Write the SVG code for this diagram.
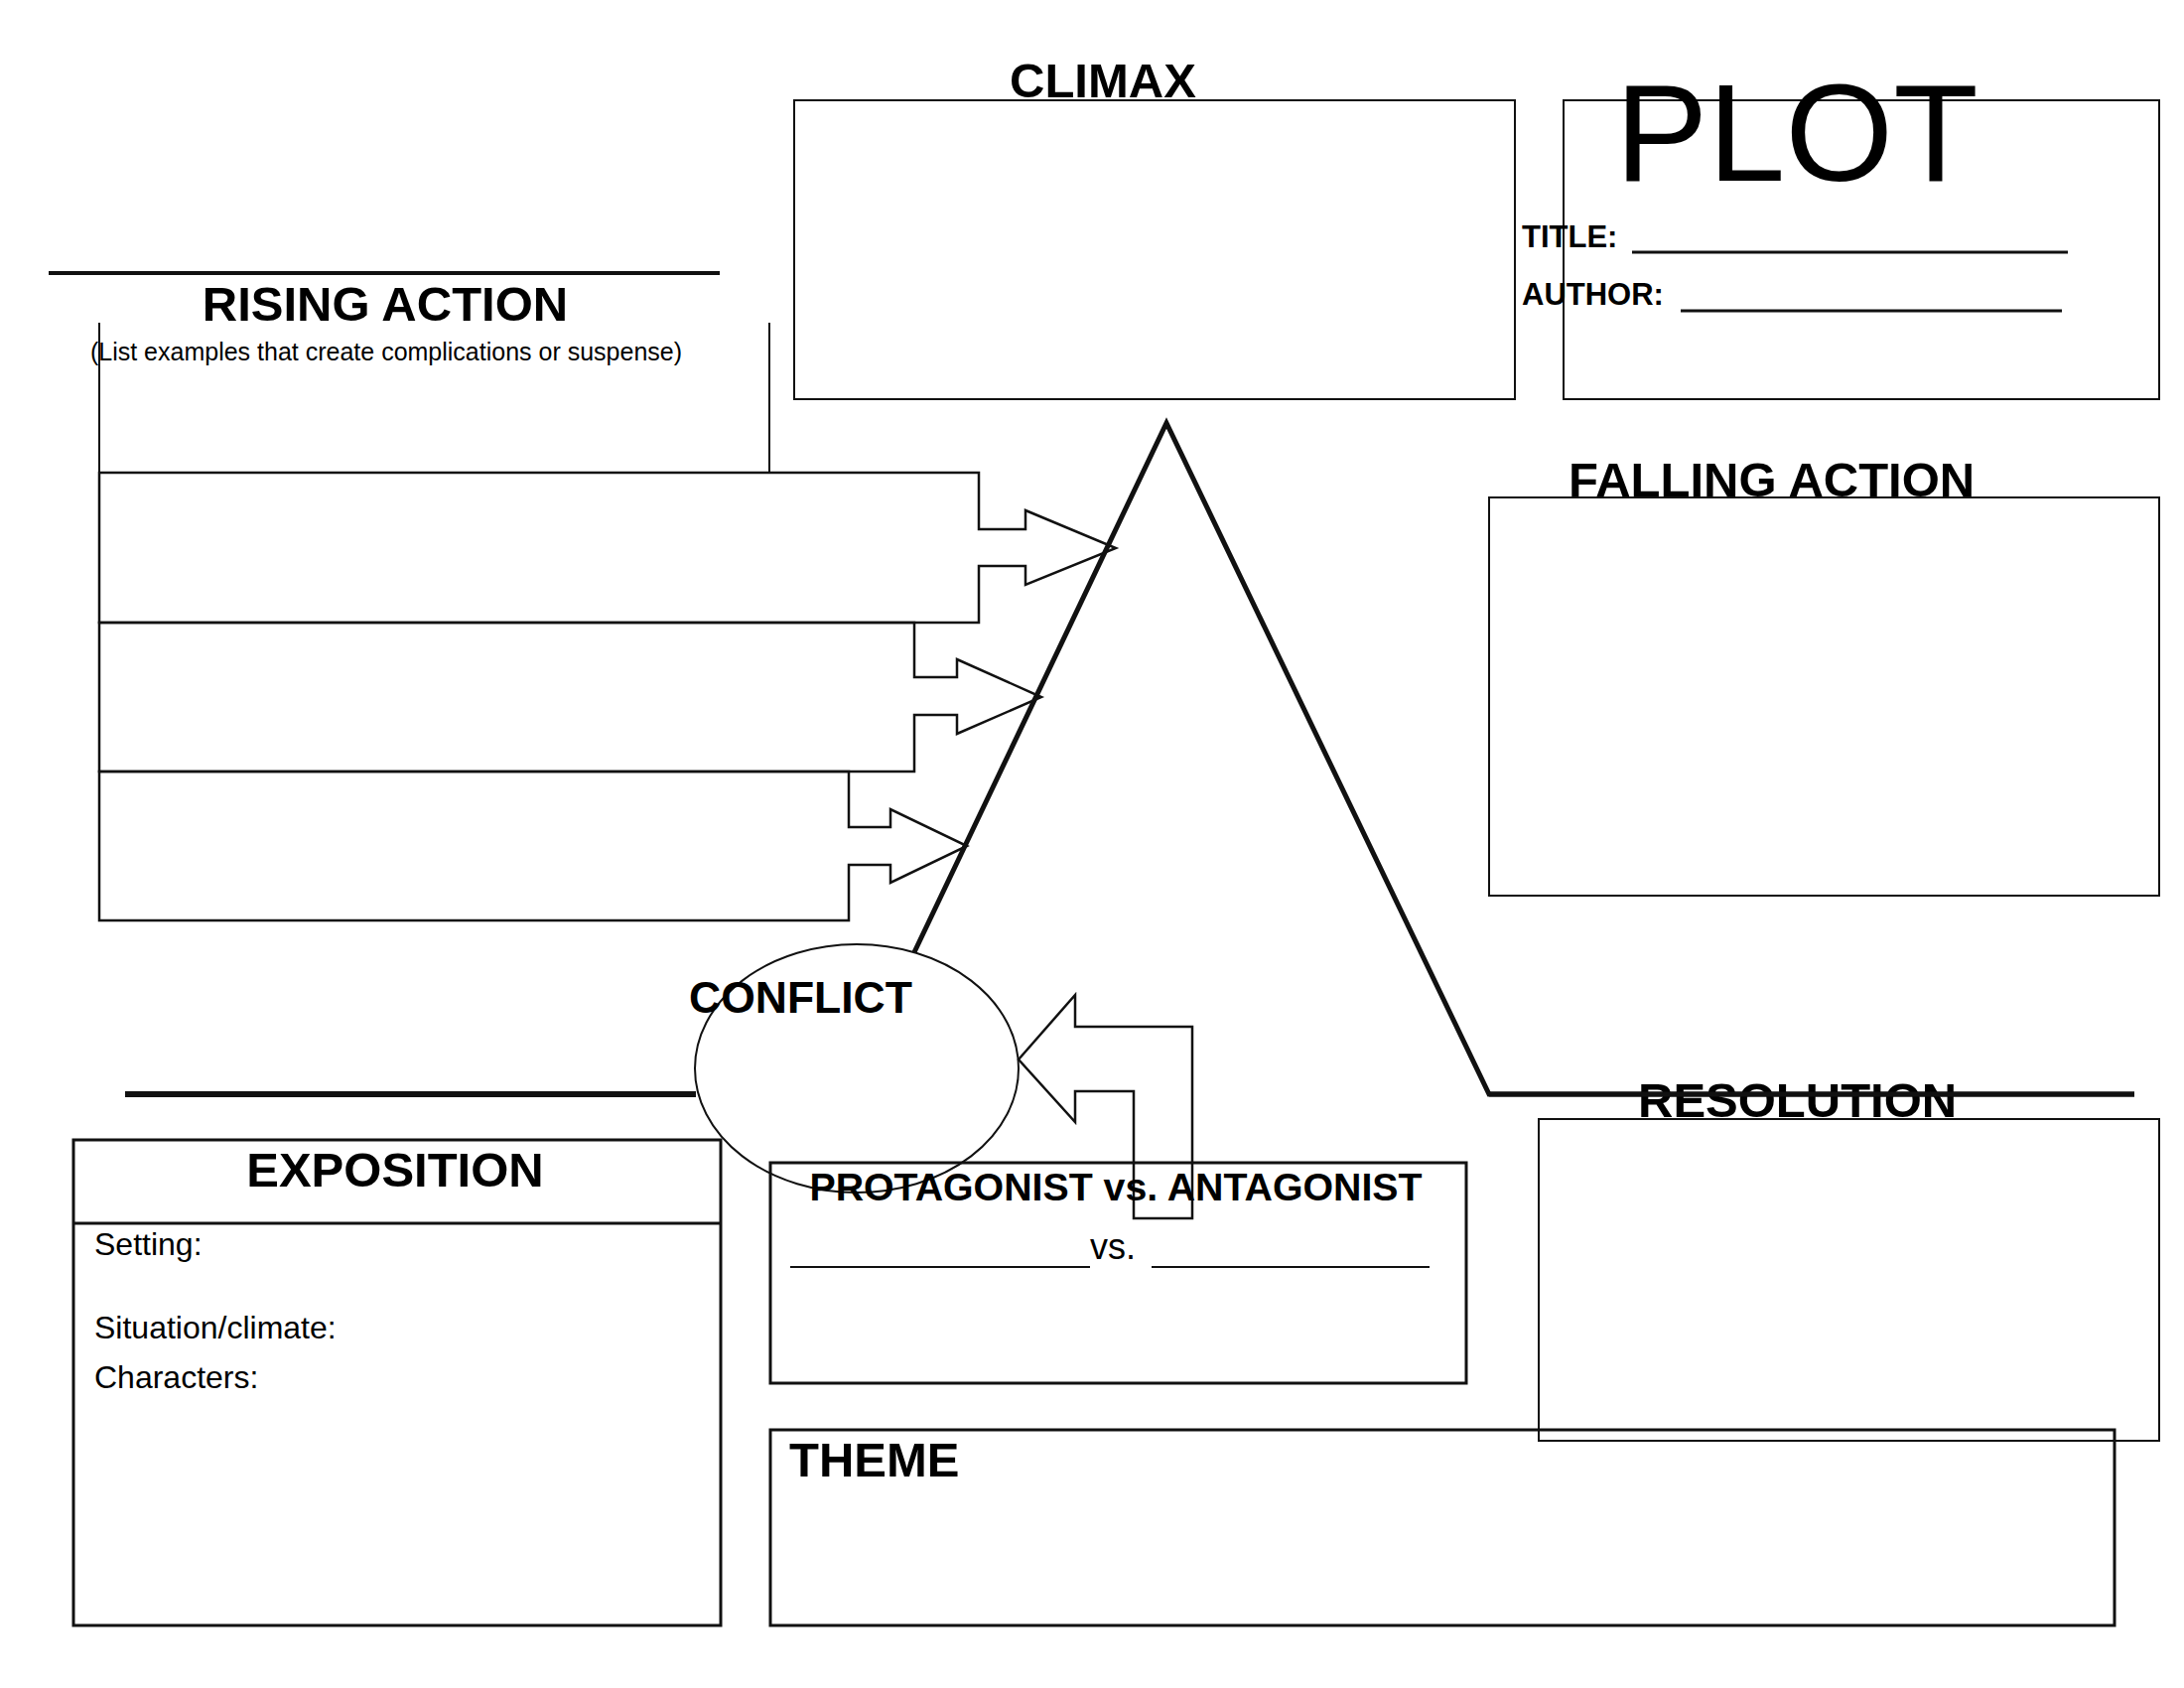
<svg xmlns="http://www.w3.org/2000/svg" width="2200" height="1700" viewBox="0 0 2200 1700">
<style>
.box{fill:none;stroke:#111;stroke-width:2.5}
.thin{fill:none;stroke:#111;stroke-width:2}
.thick{fill:none;stroke:#111;stroke-width:5;stroke-linejoin:miter}
.h{font-family:"Liberation Sans",Arial,sans-serif;font-weight:bold;fill:#000}
.r{font-family:"Liberation Sans",Arial,sans-serif;fill:#000}
</style>
<rect width="2200" height="1700" fill="#fff"/>
<g id="connectors">
<polyline class="thick" points="921,959 1175,426 1500,1102 2150,1102"/>
<line class="thick" x1="126" y1="1102" x2="701" y2="1102" style="stroke-width:6"/>
<path class="box" d="M1026,1067 L1083,1002 V1034 H1201 V1227 H1142 V1099 H1083 V1130 Z"/>
</g>
<g id="climax">
<rect class="thin" x="800" y="101" width="726" height="301"/>
<text class="h" x="1017" y="98" font-size="49">CLIMAX</text>
</g>
<g id="plot">
<rect class="thin" x="1575" y="101" width="600" height="301"/>
<text class="r" x="1627" y="182" font-size="140">PLOT</text>
<text class="h" x="1533" y="249" font-size="31">TITLE:</text>
<line x1="1644" y1="254" x2="2083" y2="254" stroke="#111" stroke-width="3"/>
<text class="h" x="1533" y="307" font-size="31">AUTHOR:</text>
<line x1="1693" y1="313" x2="2077" y2="313" stroke="#111" stroke-width="3"/>
</g>
<g id="rising-action">
<line x1="49" y1="275" x2="725" y2="275" stroke="#111" stroke-width="4"/>
<text class="h" x="388" y="323" text-anchor="middle" font-size="49">RISING ACTION</text>
<text class="r" x="389" y="363" text-anchor="middle" font-size="25">(List examples that create complications or suspense)</text>
<line class="thin" x1="100" y1="325" x2="100" y2="476"/>
<line class="thin" x1="775" y1="325" x2="775" y2="476"/>
<path class="box" d="M100,476 H986 V533 H1033 V514 L1124,552 L1033,589 V570 H986 V627 H100 Z"/>
<path class="box" d="M100,627 H921 V682 H964 V664 L1049,702 L964,739 V720 H921 V777 H100 Z"/>
<path class="box" d="M100,777 H855 V833 H897 V815 L974,852 L897,889 V871 H855 V927 H100 Z"/>
</g>
<g id="falling-action">
<rect class="thin" x="1500" y="501" width="675" height="401"/>
<text class="h" x="1580" y="500" font-size="49">FALLING ACTION</text>
</g>
<g id="conflict">
<ellipse cx="863" cy="1076" rx="163" ry="125" fill="none" stroke="#111" stroke-width="2"/>
<text class="h" x="694" y="1020" font-size="44.5">CONFLICT</text>
</g>
<g id="exposition">
<rect x="74" y="1148" width="652" height="489" fill="none" stroke="#111" stroke-width="3"/>
<line x1="74" y1="1232" x2="726" y2="1232" stroke="#111" stroke-width="3"/>
<text class="h" x="398" y="1195" text-anchor="middle" font-size="49">EXPOSITION</text>
<text class="r" x="95" y="1264" font-size="32">Setting:</text>
<text class="r" x="95" y="1348" font-size="32">Situation/climate:</text>
<text class="r" x="95" y="1398" font-size="32">Characters:</text>
</g>
<g id="protagonist">
<rect x="776" y="1171" width="701" height="222" fill="none" stroke="#111" stroke-width="3"/>
<text class="h" x="1124" y="1209" text-anchor="middle" font-size="39.3">PROTAGONIST vs. ANTAGONIST</text>
<line x1="796" y1="1276" x2="1098" y2="1276" stroke="#111" stroke-width="2"/>
<text class="r" x="1098" y="1268" font-size="36">vs.</text>
<line x1="1160" y1="1276" x2="1440" y2="1276" stroke="#111" stroke-width="2"/>
</g>
<g id="resolution">
<rect class="thin" x="1550" y="1127" width="625" height="324"/>
<text class="h" x="1650" y="1125" font-size="49">RESOLUTION</text>
</g>
<line x1="1500" y1="1102" x2="2150" y2="1102" stroke="#111" stroke-width="5"/>
<g id="theme">
<rect x="776" y="1440" width="1354" height="197" fill="none" stroke="#111" stroke-width="3"/>
<text class="h" x="795" y="1487" font-size="49">THEME</text>
</g>
</svg>
